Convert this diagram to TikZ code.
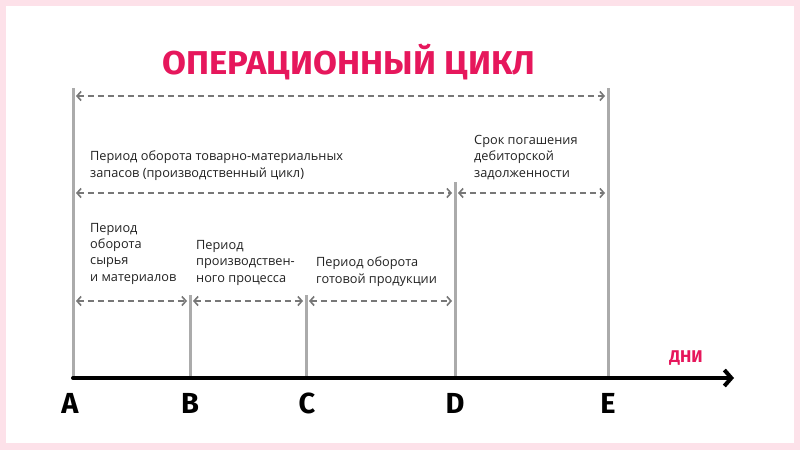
\documentclass[tikz,border=0pt]{standalone}
\usepackage{fontspec}
\setmainfont{Open Sans}
\newfontfamily\headfont{Fira Sans}
\newfontfamily\titlefont{Fira Sans}[FakeStretch=1.05]
\usetikzlibrary{arrows.meta}
\definecolor{frame}{HTML}{FDE1E9}
\definecolor{brand}{HTML}{E6175C}
\definecolor{vgray}{HTML}{ABABAB}
\definecolor{dgray}{HTML}{777777}
\definecolor{txt}{HTML}{222222}
\tikzset{
  vline/.style={draw=vgray, line width=3pt},
  axisline/.style={draw=black, line width=4pt, line cap=round, -{Straight Barb[length=7pt,width=16pt]}},
  darrow/.style={draw=dgray, line width=1.6pt, dash pattern=on 6pt off 4pt,
     {Straight Barb[length=4pt,width=9pt]}-{Straight Barb[length=4pt,width=9pt]},
     shorten <=3pt, shorten >=3pt},
  lbl/.style={anchor=base west, inner sep=0pt, align=left, text=txt,
     font=\fontsize{12.75}{16.3}\selectfont},
  pointlbl/.style={inner sep=0pt, font=\headfont\bfseries\fontsize{29}{29}\selectfont},
}
\begin{document}
\begin{tikzpicture}[x=1pt,y=-1pt]
\fill[frame] (0,0) rectangle (800,450);
\fill[white] (6,6) rectangle (794,443);
\useasboundingbox (0,0) rectangle (800,450);

\node[text=brand, font=\titlefont\bfseries\fontsize{33}{33}\selectfont] (title) at (349,62) {ОПЕРАЦИОННЫЙ ЦИКЛ};

% vertical markers
\coordinate (At) at (73,88);  \coordinate (Ab) at (73,378);
\coordinate (Bt) at (190,295); \coordinate (Bb) at (190,378);
\coordinate (Ct) at (306,295); \coordinate (Cb) at (306,378);
\coordinate (Dt) at (455,182); \coordinate (Db) at (455,378);
\coordinate (Et) at (608,88);  \coordinate (Eb) at (608,378);
\coordinate (Z) at (734,378);

\draw[vline] (At) -- (Ab);
\draw[vline] (Bt) -- (Bb);
\draw[vline] (Ct) -- (Cb);
\draw[vline] (Dt) -- (Db);
\draw[vline] (Et) -- (Eb);
\draw[axisline] (Ab) -- (Z);

% dashed arrows
\coordinate (r1a) at (73,96);  \coordinate (r1e) at (608,96);
\coordinate (r2a) at (73,193); \coordinate (r2d) at (455,193); \coordinate (r2e) at (608,193);
\coordinate (r3a) at (73,301); \coordinate (r3b) at (190,301); \coordinate (r3c) at (306,301); \coordinate (r3d) at (455,301);
\draw[darrow] (r1a) -- (r1e);
\draw[darrow] (r2a) -- (r2d);
\draw[darrow] (r2d) -- (r2e);
\draw[darrow] (r3a) -- (r3b);
\draw[darrow] (r3b) -- (r3c);
\draw[darrow] (r3c) -- (r3d);

% labels (anchor = baseline of last line)
\node[lbl] (t1) at (90,177) {Период оборота товарно-материальных\\запасов (производственный цикл)};
\node[lbl] (t2) at (474,177) {Срок погашения\\дебиторской\\задолженности};
\node[lbl] (t3) at (90,281) {Период\\оборота\\сырья\\и материалов};
\node[lbl] (t4) at (196,282) {Период\\производствен-\\ного процесса};
\node[lbl] (t5) at (316,283) {Период оборота\\готовой продукции};

\node[text=brand, font=\headfont\bfseries\fontsize{17}{17}\selectfont] (days) at (686,358) {ДНИ};

\node[pointlbl] (A) at (70,403) {A};
\node[pointlbl] (B) at (190,403) {B};
\node[pointlbl] (C) at (307,403) {C};
\node[pointlbl] (D) at (455,403) {D};
\node[pointlbl] (E) at (608,403) {E};
\end{tikzpicture}
\end{document}
